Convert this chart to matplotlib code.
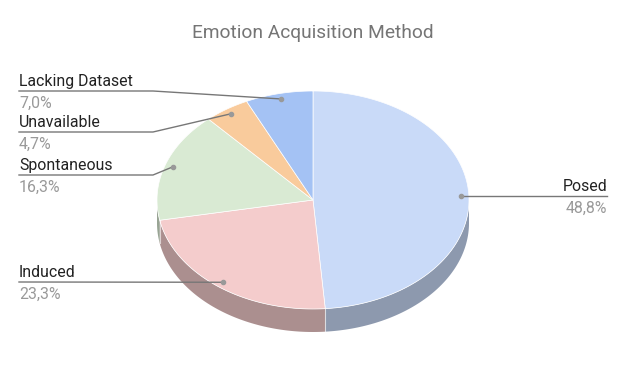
import numpy as np
import matplotlib.pyplot as plt
from matplotlib.patches import Polygon

plt.rcParams['font.family'] = ['Roboto', 'DejaVu Sans']

labels = ['Posed', 'Induced', 'Spontaneous', 'Unavailable', 'Lacking Dataset']
values = [48.8, 23.3, 16.3, 4.7, 7.0]
pct_text = ['48,8%', '23,3%', '16,3%', '4,7%', '7,0%']
colors = ['#c9daf8', '#f4cccc', '#d9ead3', '#f9cb9c', '#a4c2f4']

# pie geometry (pixel space)
cx, cy = 313, 200
rx, ry = 156, 109
depth = 23

# label layout: (side, line y, elbow x)
label_pos = {
    'Posed': ('right', 196, None),
    'Induced': ('left', 282, None),
    'Spontaneous': ('left', 175, 153),
    'Unavailable': ('left', 132, 153),
    'Lacking Dataset': ('left', 91, 153),
}


def pt(theta, f=1.0):
    # theta: degrees clockwise from top
    t = np.radians(theta)
    return cx + rx * f * np.sin(t), cy - ry * f * np.cos(t)


def darker(c, k=0.7):
    r, g, b = [int(c[i:i + 2], 16) / 255 for i in (1, 3, 5)]
    return (r * k, g * k, b * k)


fig = plt.figure(figsize=(6.26, 3.87), dpi=100)
ax = fig.add_axes([0, 0, 1, 1])
ax.set_xlim(0, 626)
ax.set_ylim(387, 0)
ax.axis('off')

total = sum(values)
bounds = np.concatenate([[0], np.cumsum(values) / total * 360])

# sides first
for i in range(len(values)):
    a, b = max(bounds[i], 90), min(bounds[i + 1], 270)
    if a >= b:
        continue
    th = np.linspace(a, b, 80)
    xs, ys = pt(th)
    poly = list(zip(xs, ys)) + list(zip(xs[::-1], ys[::-1] + depth))
    ax.add_patch(Polygon(poly, closed=True, fc=darker(colors[i]), ec='none'))
    # vertical seam at slice boundary
    if 90 < bounds[i] < 270:
        x0, y0 = pt(bounds[i])
        ax.plot([x0, x0], [y0, y0 + depth], color='white', lw=0.8, alpha=0.6)

# top faces
for i in range(len(values)):
    th = np.linspace(bounds[i], bounds[i + 1], 150)
    xs, ys = pt(th)
    poly = [(cx, cy)] + list(zip(xs, ys))
    ax.add_patch(Polygon(poly, closed=True, fc=colors[i], ec='white', lw=0.5))

# labels with leader lines
fs = 11.4
for i, name in enumerate(labels):
    mid = (bounds[i] + bounds[i + 1]) / 2
    dx, dy = pt(mid, 0.95)
    side, ly, elbow = label_pos[name]
    ax.plot(dx, dy, 'o', ms=3, color='#999999', zorder=5)
    if side == 'right':
        ax.plot([dx, 607], [ly, ly], color='#777777', lw=1)
        ax.text(607, ly - 2, name, ha='right', va='bottom', fontsize=fs, color='#222222')
        ax.text(607, ly + 4.5, pct_text[i], ha='right', va='top', fontsize=fs, color='#999999')
    else:
        if elbow is None:
            ax.plot([19, dx], [ly, dy], color='#777777', lw=1)
        else:
            ax.plot([19, elbow, dx], [ly, ly, dy], color='#777777', lw=1)
        ax.text(19, ly - 2, name, ha='left', va='bottom', fontsize=fs, color='#222222')
        ax.text(19, ly + 4.5, pct_text[i], ha='left', va='top', fontsize=fs, color='#999999')

ax.text(313, 33, 'Emotion Acquisition Method', ha='center', va='center',
        fontsize=13.8, color='#757575')

fig.savefig('out.png', dpi=100)
